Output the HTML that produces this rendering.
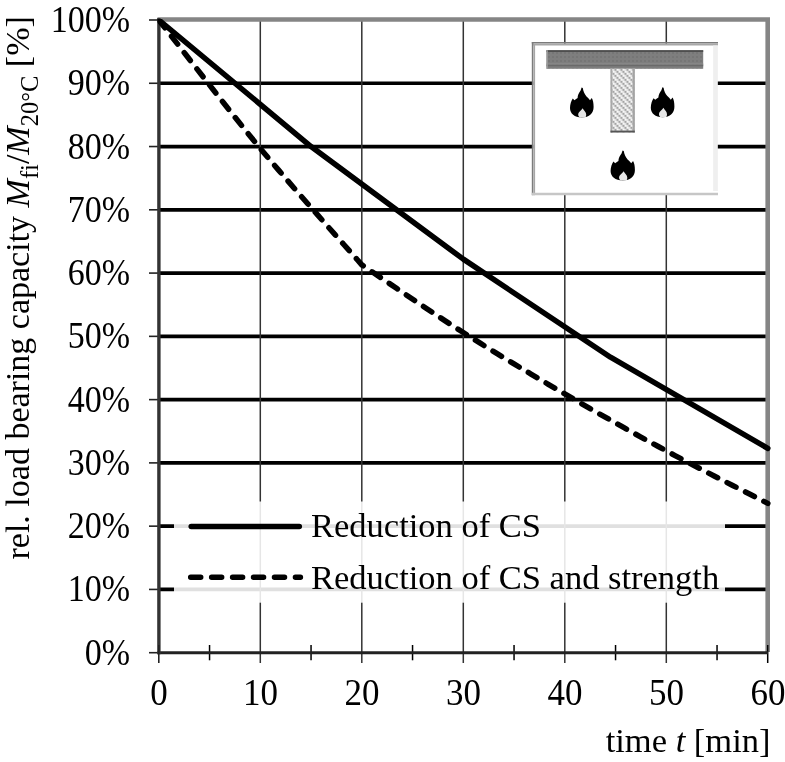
<!DOCTYPE html>
<html><head><meta charset="utf-8"><style>
html,body{margin:0;padding:0;background:#fff;width:785px;height:762px;overflow:hidden}
svg{display:block}
text{font-family:"Liberation Serif","Times New Roman",serif;fill:#000}
</style></head><body>
<svg width="785" height="762" viewBox="0 0 785 762">
<rect width="785" height="762" fill="#fff"/>
<line x1="160" y1="589.43" x2="767" y2="589.43" stroke="#000" stroke-width="3.7"/>
<line x1="160" y1="526.16" x2="767" y2="526.16" stroke="#000" stroke-width="3.7"/>
<line x1="160" y1="462.89" x2="767" y2="462.89" stroke="#000" stroke-width="3.7"/>
<line x1="160" y1="399.62" x2="767" y2="399.62" stroke="#000" stroke-width="3.7"/>
<line x1="160" y1="336.35" x2="767" y2="336.35" stroke="#000" stroke-width="3.7"/>
<line x1="160" y1="273.08" x2="767" y2="273.08" stroke="#000" stroke-width="3.7"/>
<line x1="160" y1="209.81" x2="767" y2="209.81" stroke="#000" stroke-width="3.7"/>
<line x1="160" y1="146.54" x2="767" y2="146.54" stroke="#000" stroke-width="3.7"/>
<line x1="160" y1="83.27" x2="767" y2="83.27" stroke="#000" stroke-width="3.7"/>
<line x1="260.30" y1="20" x2="260.30" y2="663" stroke="#333" stroke-width="1.5"/>
<line x1="361.80" y1="20" x2="361.80" y2="663" stroke="#333" stroke-width="1.5"/>
<line x1="463.30" y1="20" x2="463.30" y2="663" stroke="#333" stroke-width="1.5"/>
<line x1="564.80" y1="20" x2="564.80" y2="663" stroke="#333" stroke-width="1.5"/>
<line x1="666.30" y1="20" x2="666.30" y2="663" stroke="#333" stroke-width="1.5"/>
<line x1="209.55" y1="645" x2="209.55" y2="660.3" stroke="#000" stroke-width="1.5"/>
<line x1="311.05" y1="645" x2="311.05" y2="660.3" stroke="#000" stroke-width="1.5"/>
<line x1="412.55" y1="645" x2="412.55" y2="660.3" stroke="#000" stroke-width="1.5"/>
<line x1="514.05" y1="645" x2="514.05" y2="660.3" stroke="#000" stroke-width="1.5"/>
<line x1="615.55" y1="645" x2="615.55" y2="660.3" stroke="#000" stroke-width="1.5"/>
<line x1="717.05" y1="645" x2="717.05" y2="660.3" stroke="#000" stroke-width="1.5"/>
<line x1="149" y1="652.70" x2="158" y2="652.70" stroke="#222" stroke-width="1.6"/>
<line x1="149" y1="589.43" x2="158" y2="589.43" stroke="#222" stroke-width="1.6"/>
<line x1="149" y1="526.16" x2="158" y2="526.16" stroke="#222" stroke-width="1.6"/>
<line x1="149" y1="462.89" x2="158" y2="462.89" stroke="#222" stroke-width="1.6"/>
<line x1="149" y1="399.62" x2="158" y2="399.62" stroke="#222" stroke-width="1.6"/>
<line x1="149" y1="336.35" x2="158" y2="336.35" stroke="#222" stroke-width="1.6"/>
<line x1="149" y1="273.08" x2="158" y2="273.08" stroke="#222" stroke-width="1.6"/>
<line x1="149" y1="209.81" x2="158" y2="209.81" stroke="#222" stroke-width="1.6"/>
<line x1="149" y1="146.54" x2="158" y2="146.54" stroke="#222" stroke-width="1.6"/>
<line x1="149" y1="83.27" x2="158" y2="83.27" stroke="#222" stroke-width="1.6"/>
<line x1="149" y1="20.00" x2="158" y2="20.00" stroke="#222" stroke-width="1.6"/>
<path d="M157.5,19.5 L767.7,19.5 L767.7,652" fill="none" stroke="#858585" stroke-width="4.6"/>
<line x1="767.7" y1="645" x2="767.7" y2="663" stroke="#000" stroke-width="1.5"/>
<line x1="157.3" y1="652.7" x2="768" y2="652.7" stroke="#222" stroke-width="3"/>
<line x1="158.9" y1="18" x2="158.9" y2="654.2" stroke="#333" stroke-width="3.4"/>
<line x1="158.8" y1="645" x2="158.8" y2="663" stroke="#222" stroke-width="1.6"/>
<rect x="174" y="501.5" width="551" height="101.2" fill="#fff" fill-opacity="0.88"/>
<g>
<defs>
<pattern id="hatch" patternUnits="userSpaceOnUse" x="610.5" y="68.8" width="6" height="6">
<rect width="6" height="6" fill="#c4c4c4"/>
<rect x="0" y="0" width="2" height="2" fill="#f8f8f8"/><rect x="2" y="2" width="2" height="2" fill="#f8f8f8"/><rect x="4" y="4" width="2" height="2" fill="#f8f8f8"/>
<rect x="4" y="0" width="2" height="2" fill="#a4a4a4"/><rect x="0" y="2" width="2" height="2" fill="#a4a4a4"/><rect x="2" y="4" width="2" height="2" fill="#a4a4a4"/>
<rect x="2" y="0" width="2" height="2" fill="#e0e0e0"/><rect x="4" y="2" width="2" height="2" fill="#e0e0e0"/><rect x="0" y="4" width="2" height="2" fill="#e0e0e0"/>
</pattern>
<pattern id="fl" patternUnits="userSpaceOnUse" width="4" height="4">
<rect width="4" height="4" fill="#7e7e7e"/><rect width="2" height="2" fill="#767676"/>
</pattern>
</defs>
<rect x="533.3" y="43.8" width="183" height="150" fill="#fff"/>
<line x1="531.8" y1="42.8" x2="718" y2="42.8" stroke="#7a7a7a" stroke-width="1.6"/>
<line x1="533" y1="44.6" x2="718" y2="44.6" stroke="#a8a8a8" stroke-width="2"/>
<line x1="532.6" y1="42" x2="532.6" y2="195.2" stroke="#7c7c7c" stroke-width="1.6"/>
<line x1="534.3" y1="44" x2="534.3" y2="195.2" stroke="#a6a6a6" stroke-width="1.6"/>
<line x1="715.5" y1="45.6" x2="715.5" y2="191" stroke="#efefef" stroke-width="4.7"/>
<line x1="531.8" y1="194" x2="718" y2="194" stroke="#c6c6c6" stroke-width="2.4"/>
<rect x="546.5" y="50.2" width="156.7" height="18.6" fill="url(#fl)"/>
<rect x="546.5" y="50.2" width="156.7" height="1.8" fill="#4e4e4e"/>
<rect x="546.5" y="63.5" width="156.7" height="1.2" fill="#8e8e8e"/>
<rect x="546.5" y="64.7" width="156.7" height="1.6" fill="#6a6a6a"/>
<rect x="546.5" y="50.2" width="1.4" height="18.6" fill="#9a9a9a"/>
<rect x="610.5" y="68.8" width="24.3" height="63.7" fill="url(#hatch)"/>
<rect x="610.5" y="68.8" width="1.8" height="63.7" fill="#a8a8a8"/>
<rect x="632.6" y="68.8" width="2.2" height="63.7" fill="#a4a4a4"/>
<rect x="610.5" y="130.6" width="24.3" height="1.9" fill="#555"/>
<g transform="translate(570.0,87.6) scale(1.000,1.000)"><path d="M11.6,0 L12.8,0.5 C13.2,3.5 14.5,6.5 16.5,8.8 C18,10.2 19.4,11.4 20,12.6 L21.8,10.4 C23,12.5 23.6,15.5 23.6,19.5 C23.6,25.5 19.5,30 11.8,30 C4.5,30 0,26 0,20.5 C0,16.5 1.4,13.2 2.8,11 L4.4,12.6 C5.5,11.8 6.8,11 7.6,10.4 C7.6,8 9,5 10.6,3 L11.6,0 Z" fill="#000"/><path d="M12.6,20.6 C11.6,22.6 8.2,24.2 8.2,27.2 C8.2,28.8 9.2,29.6 10.2,30 L15,30 C15.8,29.6 16.2,28.4 16.2,27 C16.2,24.2 13.6,22.6 12.6,20.6 Z" fill="#fff" opacity="0.9"/></g>
<g transform="translate(650.8,87.2) scale(1.000,1.000)"><path d="M11.6,0 L12.8,0.5 C13.2,3.5 14.5,6.5 16.5,8.8 C18,10.2 19.4,11.4 20,12.6 L21.8,10.4 C23,12.5 23.6,15.5 23.6,19.5 C23.6,25.5 19.5,30 11.8,30 C4.5,30 0,26 0,20.5 C0,16.5 1.4,13.2 2.8,11 L4.4,12.6 C5.5,11.8 6.8,11 7.6,10.4 C7.6,8 9,5 10.6,3 L11.6,0 Z" fill="#000"/><path d="M12.6,20.6 C11.6,22.6 8.2,24.2 8.2,27.2 C8.2,28.8 9.2,29.6 10.2,30 L15,30 C15.8,29.6 16.2,28.4 16.2,27 C16.2,24.2 13.6,22.6 12.6,20.6 Z" fill="#fff" opacity="0.9"/></g>
<g transform="translate(610.6,150.6) scale(1.030,1.000)"><path d="M11.6,0 L12.8,0.5 C13.2,3.5 14.5,6.5 16.5,8.8 C18,10.2 19.4,11.4 20,12.6 L21.8,10.4 C23,12.5 23.6,15.5 23.6,19.5 C23.6,25.5 19.5,30 11.8,30 C4.5,30 0,26 0,20.5 C0,16.5 1.4,13.2 2.8,11 L4.4,12.6 C5.5,11.8 6.8,11 7.6,10.4 C7.6,8 9,5 10.6,3 L11.6,0 Z" fill="#000"/><path d="M12.6,20.6 C11.6,22.6 8.2,24.2 8.2,27.2 C8.2,28.8 9.2,29.6 10.2,30 L15,30 C15.8,29.6 16.2,28.4 16.2,27 C16.2,24.2 13.6,22.6 12.6,20.6 Z" fill="#fff" opacity="0.9"/></g>
</g>
<clipPath id="pc"><rect x="157.6" y="18.9" width="620" height="680"/></clipPath>
<g clip-path="url(#pc)">
<path d="M158.80,20.00 L311.05,146.54 L463.30,259.16 L610.48,357.23 L767.80,448.34" fill="none" stroke="#000" stroke-width="5.5" stroke-linecap="round" stroke-linejoin="round"/>
<path d="M158.80,20.00 L163.70,26.24 L169.84,34.11 L177.04,43.36 L185.11,53.74 L193.90,65.02 L203.21,76.94 L212.87,89.27 L222.71,101.76 L232.55,114.16 L242.21,126.24 L251.52,137.75 L260.30,148.44 L269.08,158.93 L278.39,169.88 L288.05,181.12 L297.89,192.45 L307.73,203.69 L317.39,214.67 L326.70,225.21 L335.49,235.12 L343.56,244.22 L350.76,252.33 L356.90,259.27 L361.80,264.85 L366.70,268.15 L372.84,272.29 L380.04,277.17 L388.11,282.64 L396.90,288.58 L406.21,294.87 L415.87,301.37 L425.71,307.95 L435.55,314.49 L445.21,320.85 L454.52,326.92 L463.30,332.55 L471.76,337.90 L480.22,343.20 L488.68,348.45 L497.13,353.64 L505.59,358.80 L514.05,363.91 L522.51,368.99 L530.97,374.03 L539.42,379.04 L547.88,384.03 L556.34,388.99 L564.80,393.93 L573.26,398.84 L581.72,403.72 L590.17,408.58 L598.63,413.40 L607.09,418.19 L615.55,422.95 L624.01,427.68 L632.47,432.38 L640.92,437.05 L649.38,441.69 L657.84,446.29 L666.30,450.87 L675.08,455.57 L684.39,460.49 L694.05,465.54 L703.89,470.65 L713.73,475.72 L723.39,480.68 L732.70,485.45 L741.49,489.93 L749.56,494.05 L756.76,497.72 L762.90,500.86 L767.80,503.38" fill="none" stroke="#000" stroke-width="5.5" stroke-linecap="round" stroke-linejoin="round" stroke-dasharray="10 10.66"/>
</g>
<line x1="191.2" y1="526.5" x2="299.3" y2="526.5" stroke="#000" stroke-width="5.5" stroke-linecap="round"/>
<line x1="190.7" y1="577.3" x2="300.4" y2="577.3" stroke="#000" stroke-width="5.5" stroke-linecap="round" stroke-dasharray="10 10.95"/>
<text x="311" y="537.2" font-size="34.5">Reduction of CS</text>
<text x="311" y="588.6" font-size="34.5">Reduction of CS and strength</text>
<g font-size="34" text-anchor="end"><text transform="translate(130,664.7) scale(1,1.1)">0%</text><text transform="translate(130,601.4) scale(1,1.1)">10%</text><text transform="translate(130,538.2) scale(1,1.1)">20%</text><text transform="translate(130,474.9) scale(1,1.1)">30%</text><text transform="translate(130,411.6) scale(1,1.1)">40%</text><text transform="translate(130,348.4) scale(1,1.1)">50%</text><text transform="translate(130,285.1) scale(1,1.1)">60%</text><text transform="translate(130,221.8) scale(1,1.1)">70%</text><text transform="translate(130,158.5) scale(1,1.1)">80%</text><text transform="translate(130,95.3) scale(1,1.1)">90%</text><text transform="translate(130,32.0) scale(1,1.1)">100%</text></g>
<g font-size="35" text-anchor="middle"><text transform="translate(159.1,705) scale(1,1.08)">0</text><text transform="translate(260.6,705) scale(1,1.08)">10</text><text transform="translate(362.1,705) scale(1,1.08)">20</text><text transform="translate(463.6,705) scale(1,1.08)">30</text><text transform="translate(565.1,705) scale(1,1.08)">40</text><text transform="translate(666.6,705) scale(1,1.08)">50</text><text transform="translate(768.1,705) scale(1,1.08)">60</text></g>
<text x="770.5" y="752" font-size="34.5" text-anchor="end">time <tspan font-style="italic">t</tspan> [min]</text>
<text transform="translate(29.1,559.5) rotate(-90)" font-size="34">rel. load bearing capacity <tspan font-style="italic">M</tspan><tspan font-size="24.5" dy="8.7">fi</tspan><tspan dy="-8.7">/</tspan><tspan font-style="italic">M</tspan><tspan font-size="24.5" dy="8.7">20°C</tspan><tspan dy="-8.7"> [%]</tspan></text>
</svg>
</body></html>
